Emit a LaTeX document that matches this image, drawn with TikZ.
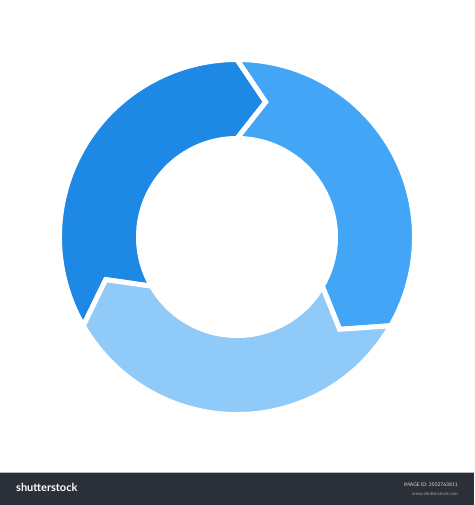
\documentclass[tikz,border=0pt]{standalone}
\usepackage{fontspec}
\newfontfamily\lato{Lato}
\definecolor{darkb}{HTML}{1E88E5}
\definecolor{midb}{HTML}{42A5F5}
\definecolor{lightb}{HTML}{90CAF9}
\definecolor{barcol}{HTML}{2B2F37}
\tikzset{
  segstyle/.style={fill=#1, draw=white, line width=5pt, line join=miter},
}
\newcommand{\arrowseg}[2]{% color, start angle
  \pgfmathsetmacro{\ea}{#2-120}
  \pgfmathsetmacro{\ta}{#2-132}
  \pgfmathsetmacro{\na}{#2-12}
  \filldraw[segstyle=#1] (#2:177.5) arc[start angle=#2, end angle=\ea, radius=177.5]
    -- (\ta:138) -- (\ea:98.5) arc[start angle=\ea, end angle=#2, radius=98.5]
    -- (\na:138) -- cycle;
}
\begin{document}
\begin{tikzpicture}[x=1pt,y=1pt]
\useasboundingbox (0,0) rectangle (474,505);
\fill[white] (0,0) rectangle (474,505);
\begin{scope}[shift={(237,268)}]
  \arrowseg{darkb}{210}
  \arrowseg{midb}{90}
  \arrowseg{lightb}{-30}
\end{scope}
\fill[barcol] (0,0) rectangle (474,32);
\fill[gray!55] (0,32) rectangle (474,33);
\node[anchor=west, text=white, font=\lato\bfseries\fontsize{11}{12}\selectfont, inner sep=0pt] (logo) at (16,18) {shutterstock};
\node[anchor=east, text=white!85!black, font=\lato\fontsize{5}{6}\selectfont, inner sep=0pt] (imgid) at (458,20) {IMAGE ID: 2502763811};
\node[anchor=east, text=white!65!black, font=\lato\fontsize{4.5}{5}\selectfont, inner sep=0pt] (www) at (458,11) {www.shutterstock.com};
\end{tikzpicture}
\end{document}
